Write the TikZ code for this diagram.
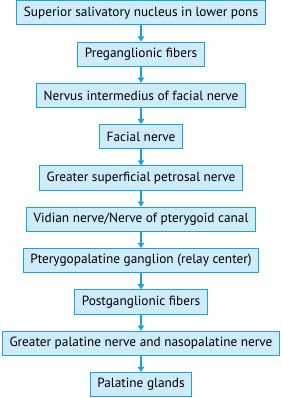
\documentclass[tikz,border=0pt]{standalone}
\usepackage{fontspec}
\setmainfont{PT Sans}
\usepackage{tikz}
\usetikzlibrary{arrows.meta,positioning}
\definecolor{linec}{HTML}{1BA1DE}
\definecolor{boxbg}{HTML}{CDEBF9}
\tikzset{
  ar/.style={-{Triangle[length=1.8mm,width=2.2mm]},line width=1.2pt,linec},
  box/.style={draw=linec,line width=0.9pt,fill=boxbg,minimum height=24.2pt,inner xsep=7pt,inner ysep=2pt,font=\fontsize{13.3}{15}\selectfont}
}

\begin{document}
\begin{tikzpicture}[x=1pt,y=1pt,node distance=16.2pt]
\useasboundingbox (0,0) rectangle (283,-398);
\node[box] (nuc) at (141,-12.8) {Superior salivatory nucleus in lower pons};
\node[box,below=of nuc] (pre) {Preganglionic fibers};
\node[box,below=of pre] (inter) {Nervus intermedius of facial nerve};
\node[box,below=of inter] (fac) {Facial nerve};
\node[box,below=of fac] (gsp) {Greater superficial petrosal nerve};
\node[box,below=of gsp] (vid) {Vidian nerve/Nerve of pterygoid canal};
\node[box,below=of vid] (ptg) {Pterygopalatine ganglion (relay center)};
\node[box,below=of ptg] (post) {Postganglionic fibers};
\node[box,below=of post] (gpn) {Greater palatine nerve and nasopalatine nerve};
\node[box,below=of gpn] (gland) {Palatine glands};
\foreach \a/\b in {nuc/pre,pre/inter,inter/fac,fac/gsp,gsp/vid,vid/ptg,ptg/post,post/gpn,gpn/gland}
  \draw[ar] (\a) -- (\b);
\end{tikzpicture}
\end{document}
